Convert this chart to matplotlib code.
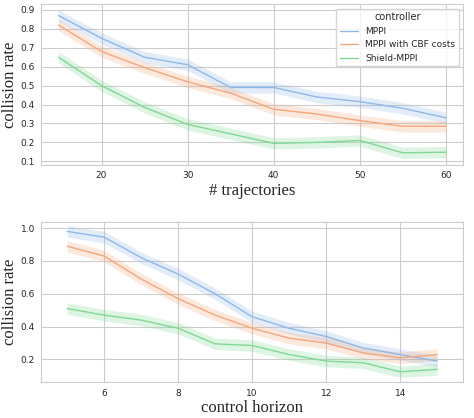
import matplotlib
matplotlib.use("Agg")
import matplotlib.pyplot as plt
import seaborn as sns

sns.set_style("whitegrid")

labels = ["MPPI", "MPPI with CBF costs", "Shield-MPPI"]
colors = ["#8fb8e8", "#f4a77a", "#7fd894"]

traj = [15, 20, 25, 30, 35, 40, 45, 50, 55, 60]
traj_mppi = [0.87, 0.75, 0.65, 0.61, 0.49, 0.49, 0.44, 0.415, 0.38, 0.33]
traj_cbf = [0.82, 0.68, 0.595, 0.52, 0.46, 0.375, 0.35, 0.315, 0.285, 0.285]
traj_shield = [0.65, 0.50, 0.385, 0.295, 0.245, 0.195, 0.20, 0.21, 0.145, 0.148]
traj_err = [0.03, 0.03, 0.03]

horizon = [5, 6, 7, 8, 9, 10, 11, 12, 13, 14, 15]
hor_mppi = [0.98, 0.945, 0.82, 0.72, 0.60, 0.46, 0.39, 0.34, 0.27, 0.23, 0.19]
hor_cbf = [0.89, 0.83, 0.69, 0.57, 0.47, 0.39, 0.33, 0.30, 0.24, 0.21, 0.23]
hor_shield = [0.51, 0.47, 0.44, 0.39, 0.295, 0.285, 0.23, 0.19, 0.18, 0.125, 0.14]
hor_err = [0.035, 0.035, 0.035]

serif = "Liberation Serif"

fig = plt.figure(figsize=(4.74, 4.18), dpi=100)
ax1 = fig.add_axes([0.087, 0.605, 0.89, 0.385])
ax2 = fig.add_axes([0.087, 0.085, 0.89, 0.385])

for ax, x, series, err in [
    (ax1, traj, [traj_mppi, traj_cbf, traj_shield], traj_err),
    (ax2, horizon, [hor_mppi, hor_cbf, hor_shield], hor_err),
]:
    for y, e, c, lab in zip(series, err, colors, labels):
        ax.plot(x, y, color=c, lw=1.0, label=lab)
        ax.fill_between(x, [v - e for v in y], [v + e for v in y], color=c, alpha=0.25, lw=0)
    ax.tick_params(labelsize=6.5, pad=1)
    ax.set_ylabel("collision rate", family=serif, fontsize=12, labelpad=2)

ax1.set_xlim(13, 62)
ax1.set_ylim(0.08, 0.93)
ax1.set_xticks([20, 30, 40, 50, 60])
ax1.set_yticks([0.1, 0.2, 0.3, 0.4, 0.5, 0.6, 0.7, 0.8, 0.9])
ax1.set_xlabel("# trajectories", family=serif, fontsize=12, labelpad=2)
ax1.legend(title="controller", fontsize=6.5, title_fontsize=7, loc="upper right")

ax2.set_xlim(4.3, 15.7)
ax2.set_ylim(0.06, 1.04)
ax2.set_xticks([6, 8, 10, 12, 14])
ax2.set_yticks([0.2, 0.4, 0.6, 0.8, 1.0])
ax2.set_xlabel("control horizon", family=serif, fontsize=12, labelpad=2)

fig.savefig("out.png", dpi=100)
